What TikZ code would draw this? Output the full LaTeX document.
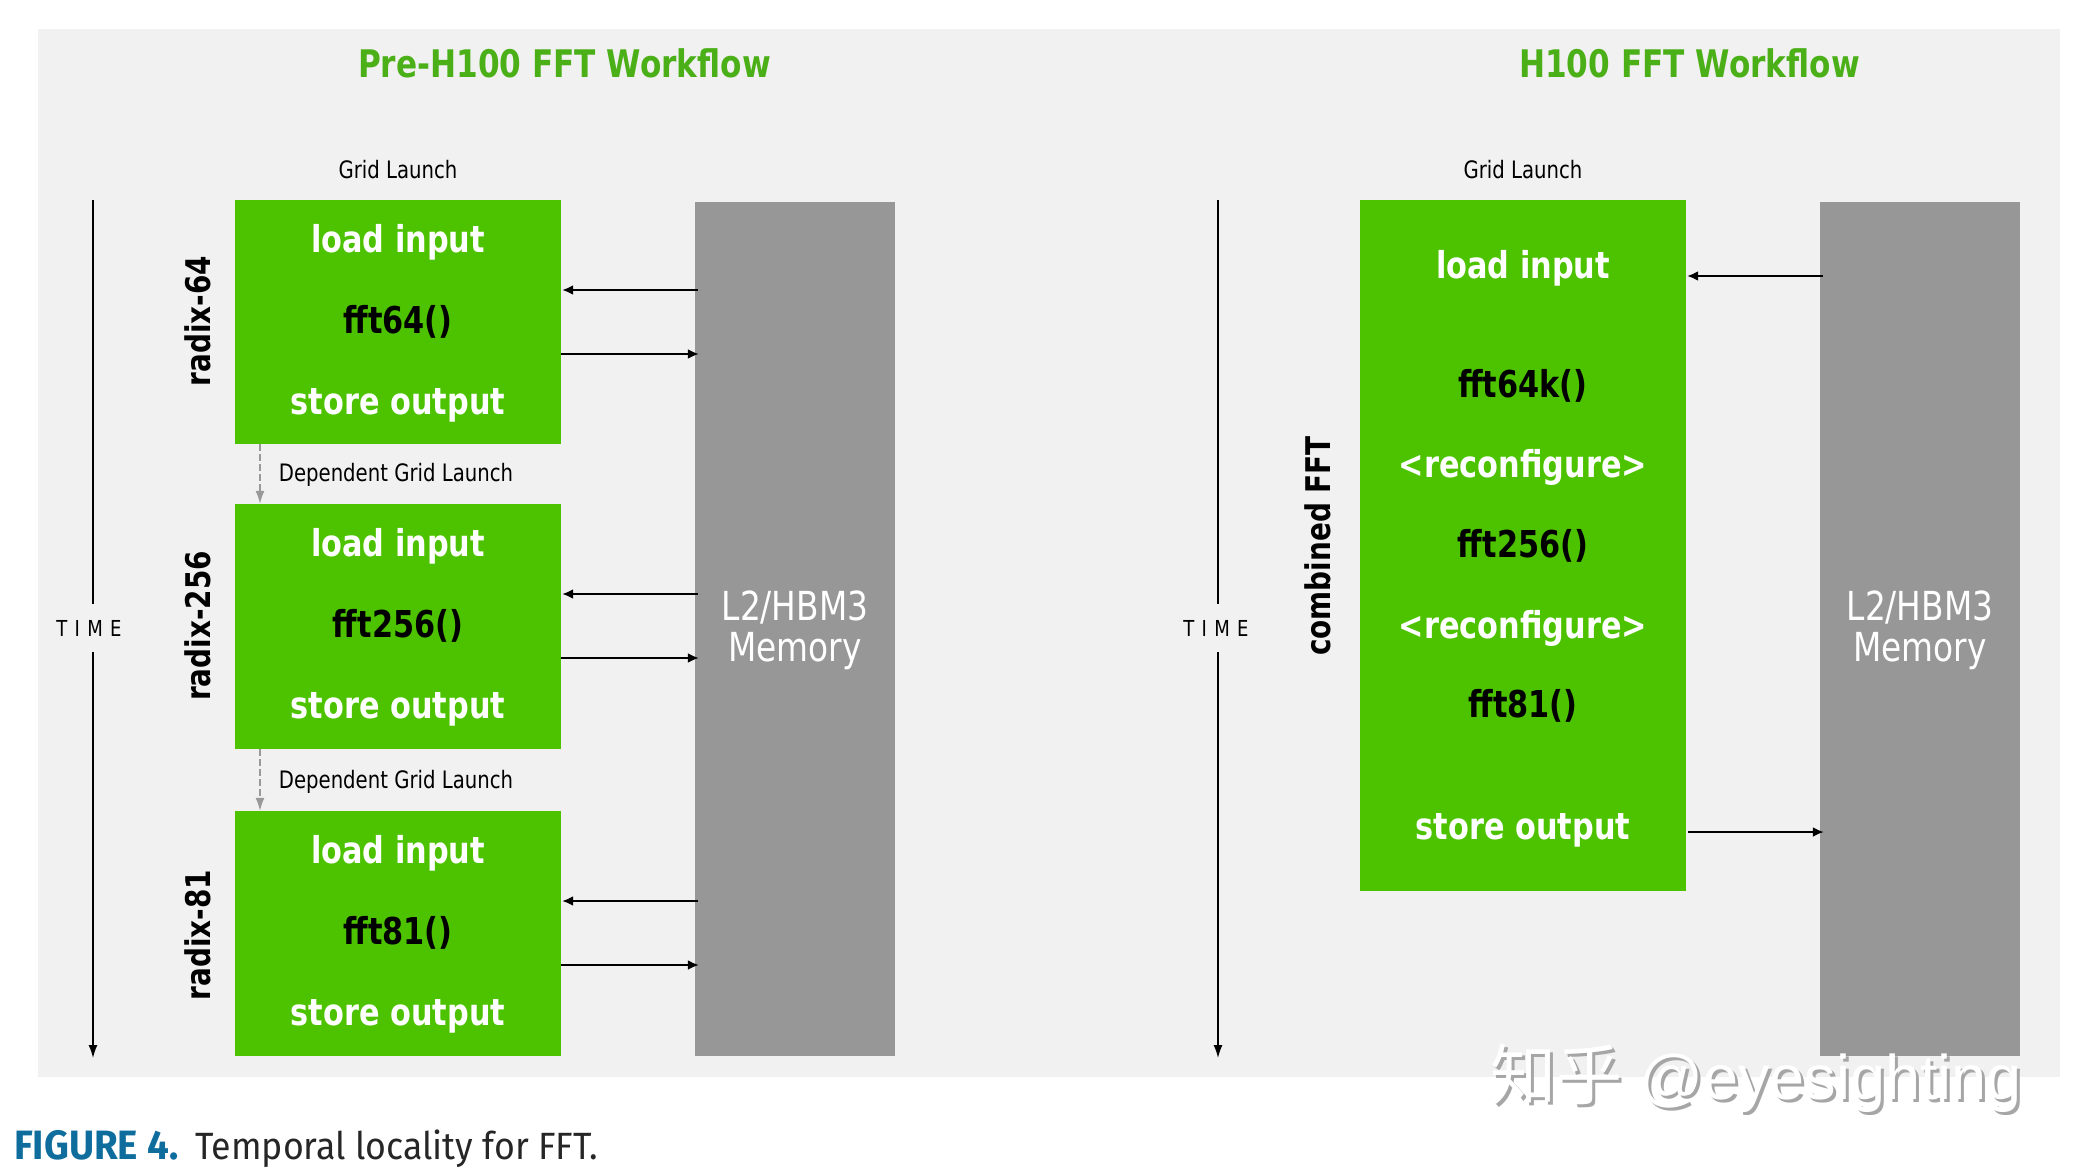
\documentclass[tikz,border=0pt]{standalone}
\usepackage{fontspec}
\setmainfont{DejaVu Sans}[FakeStretch=0.82]
\newfontfamily\capfont{Fira Sans}[FakeStretch=0.94]
\newfontfamily\cjkfont{Noto Sans CJK SC}
\newfontfamily\markfont{Liberation Sans}
\usetikzlibrary{arrows.meta,positioning}
\definecolor{panelgray}{HTML}{F1F1F1}
\definecolor{memgray}{HTML}{979797}
\definecolor{blockgreen}{HTML}{4DC300}
\definecolor{titlegreen}{HTML}{4BB018}
\definecolor{capblue}{HTML}{0F6D9E}
\tikzset{
	mem arrow/.style={-{Latex[length=11pt,width=10pt]},line width=2pt},
	time arrow/.style={-{Latex[length=13pt,width=9pt]},line width=1.5pt},
	dep arrow/.style={-{Latex[length=13pt,width=9pt]},dash pattern=on 7pt off 3pt,line width=1.5pt,draw=black!40},
	sized/.style={font=\fontsize{#1}{#1}\selectfont,inner sep=0pt,text height=#1*0.75pt+4pt,text depth=#1*0.2pt}
}

\begin{document}
\begin{tikzpicture}[
		x=1pt,y=-1pt,
		block/.style = {fill=blockgreen, inner sep=0pt, minimum width=326pt},
		memory/.style = {fill=memgray, inner sep=0pt, minimum width=200pt, minimum height=854pt},
		step white/.style = {sized=37, text=white, font=\fontsize{37}{37}\selectfont\bfseries},
		step black/.style = {sized=37, text=black, font=\fontsize{37}{37}\selectfont\bfseries},
		title/.style = {sized=38, text=titlegreen, font=\fontsize{38}{38}\selectfont\bfseries},
		small/.style = {sized=24, text=black},
		memlabel/.style = {sized=40, text=white},
		radix/.style = {sized=34, rotate=90, font=\fontsize{34}{34}\selectfont\bfseries},
		timelabel/.style = {sized=22, fill=panelgray, inner xsep=4pt, inner ysep=12pt},
	]
	\useasboundingbox (0,0) rectangle (2077,1172);
	\node [fill=panelgray, inner sep=0pt, minimum width=2022pt, minimum height=1048pt] (panel) at (1048.5,553) {};

	\node [title] (titleLeft) at (564.5,65) {Pre-H100 FFT Workflow};
	\node [title] (titleRight) at (1689.5,65) {H100 FFT Workflow};

	% memory bars
	\node [memory] (memLeft) at (795,629) {};
	\node [memory] (memRight) at (1920,629) {};
	\node [memlabel] (memTextLeft) at (795,607) {L2/HBM3};
	\node [memlabel] (memTextLeftB) at (795,648) {Memory};
	\node [memlabel] (memTextRight) at (1920,607) {L2/HBM3};
	\node [memlabel] (memTextRightB) at (1920,648) {Memory};

	% three grids on the left
	\foreach\i/\top/\h/\fft/\rad/\radY in {1/200/244/fft64()/radix-64/321, 2/504/245/fft256()/radix-256/626, 3/811/245/fft81()/radix-81/935}{
		\node [block, minimum height=\h pt] (block\i) at (398,\top+\h/2) {};
		\node [step white] (load\i) at (398,\top+40) {load input};
		\node [step black] (fft\i) at (398,\top+121) {\fft};
		\node [step white] (store\i) at (398,\top+202) {store output};
		\node [radix] (radix\i) at (199,\radY) {\rad};
		\coordinate (in\i) at (0,\top+90);
		\coordinate (out\i) at (0,\top+154);
		\draw [mem arrow] ([xshift=3pt]memLeft.west |- in\i) -- ([xshift=1pt]block\i.east |- in\i);
		\draw [mem arrow] (block\i.east |- out\i) -- ([xshift=4pt]memLeft.west |- out\i);
	}
	\node [small] (launchLeft) at (398,170) {Grid Launch};
	\coordinate (depLine) at (260,0);
	\draw [dep arrow] (block1.south -| depLine) -- (block2.north -| depLine);
	\draw [dep arrow] (block2.south -| depLine) -- (block3.north -| depLine);
	\node [small] (depA) at (396,473) {Dependent Grid Launch};
	\node [small] (depB) at (396,780) {Dependent Grid Launch};

	% combined grid on the right
	\node [block, minimum height=691pt] (blockAll) at (1523,545.5) {};
	\node [small] (launchRight) at (1523,170) {Grid Launch};
	\foreach\name/\y/\kind/\txt in {loadAll/266/step white/load input, fftA/385/step black/fft64k(), cfgA/465/step white/<reconfigure>, fftB/545/step black/fft256(), cfgB/626/step white/<reconfigure>, fftC/705/step black/fft81(), storeAll/827/step white/store output}{
		\node [\kind] (\name) at (1523,\y) {\txt};
	}
	\node [radix] (radixAll) at (1319,546) {combined FFT};
	\coordinate (inAll) at (0,276);
	\coordinate (outAll) at (0,832);
	\draw [mem arrow] ([xshift=3pt]memRight.west |- inAll) -- ([xshift=1pt]blockAll.east |- inAll);
	\draw [mem arrow] ([xshift=2pt]blockAll.east |- outAll) -- ([xshift=4pt]memRight.west |- outAll);

	% time axes
	\coordinate (timeTopL) at (93,200);
	\coordinate (timeEndL) at (93,1058);
	\coordinate (timeTopR) at (1218,200);
	\coordinate (timeEndR) at (1218,1058);
	\draw [time arrow] (timeTopL) -- (timeEndL);
	\draw [time arrow] (timeTopR) -- (timeEndR);
	\node [timelabel] (timeL) at (89,628) {T\hspace{.33em}I\hspace{.33em}M\hspace{.33em}E};
	\node [timelabel] (timeR) at (1216,628) {T\hspace{.33em}I\hspace{.33em}M\hspace{.33em}E};

	% caption
	\node [anchor=base west, inner sep=0pt, font=\capfont\fontsize{41}{41}\selectfont\bfseries, text=capblue] (capHead) at (14,1159) {FIGURE 4.};
	\node [anchor=base west, inner sep=0pt, font=\capfont\fontsize{38}{38}\selectfont, text=black!85] (capText) at (195,1159) {Temporal locality for FFT.};

	% watermark
	\node [anchor=base west, inner sep=0pt, font=\fontsize{66}{66}\selectfont, text=black!35] (markShadow) at (1493,1102) {{\cjkfont 知乎} {\markfont\fontsize{63}{63}\selectfont @eyesighting}};
	\node [anchor=base west, inner sep=0pt, font=\fontsize{66}{66}\selectfont, text=white] (markFront) at (1490,1099) {{\cjkfont 知乎} {\markfont\fontsize{63}{63}\selectfont @eyesighting}};
\end{tikzpicture}
\end{document}
